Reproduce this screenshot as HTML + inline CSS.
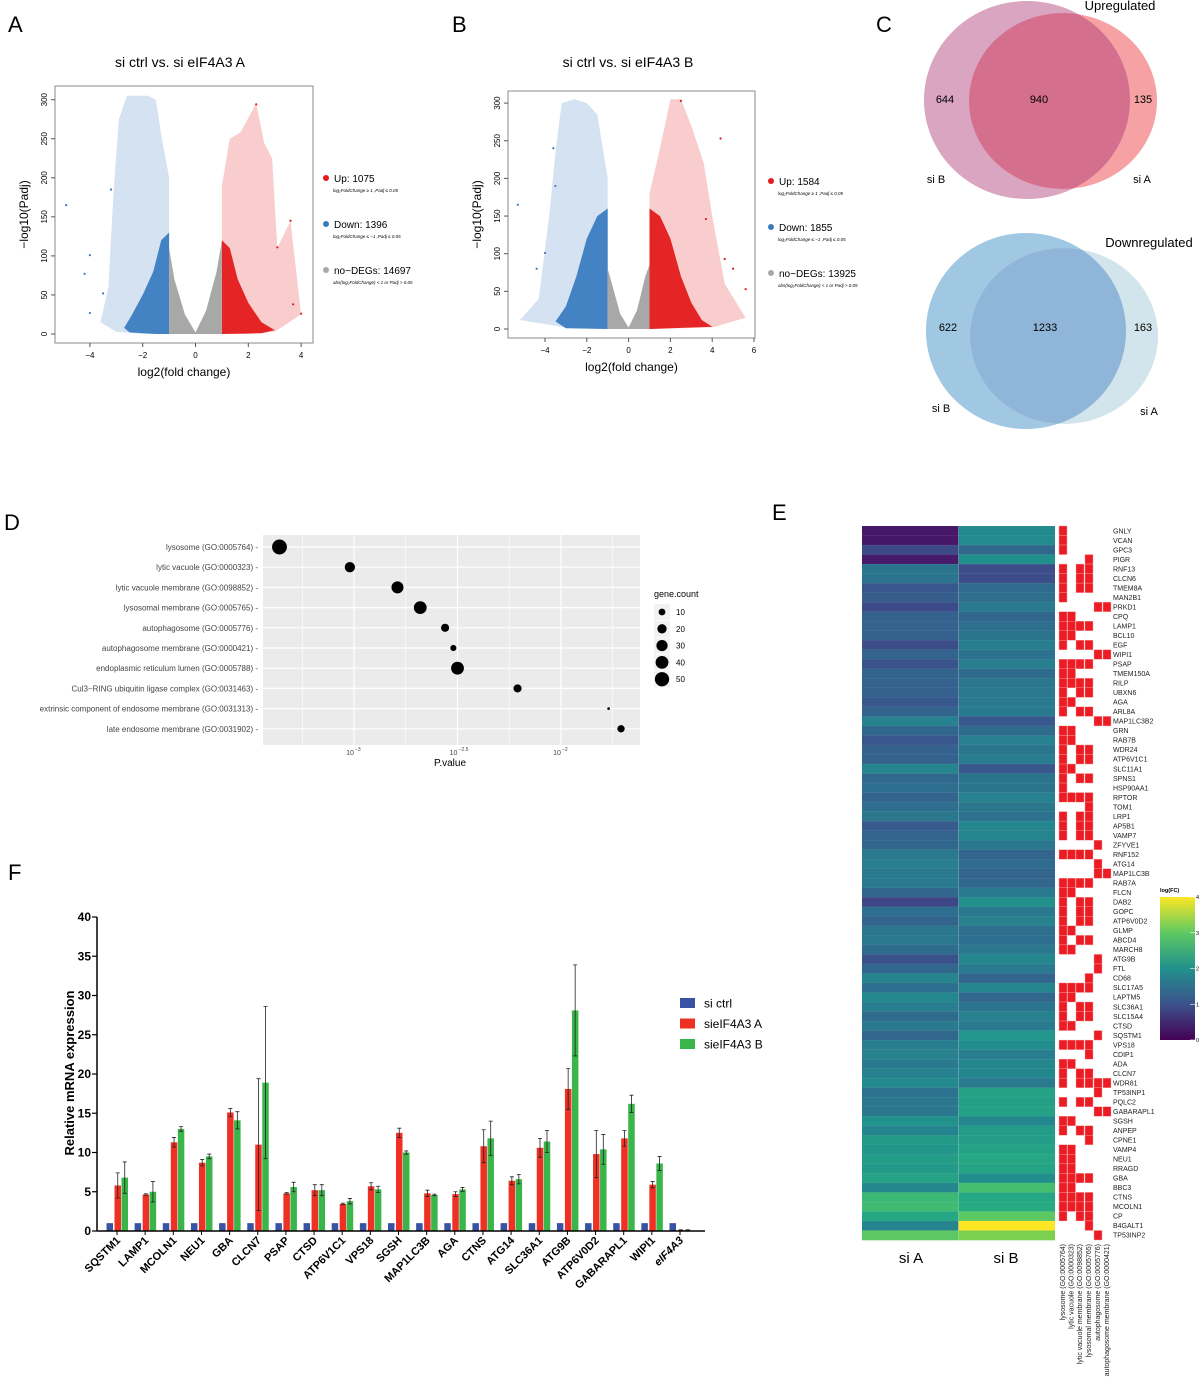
<!DOCTYPE html>
<html><head><meta charset="utf-8"><style>
html,body{margin:0;padding:0;background:#fff}
svg{display:block;font-family:"Liberation Sans",sans-serif}
</style></head><body>
<svg id="fig" width="1200" height="1377" viewBox="0 0 1200 1377">
<defs>
<clipPath id="clipUp"><ellipse cx="1063" cy="101" rx="94" ry="88"/></clipPath>
<clipPath id="clipDn"><ellipse cx="1064" cy="336" rx="94" ry="88"/></clipPath>
<linearGradient id="vir" x1="0" y1="1" x2="0" y2="0">
<stop offset="0" stop-color="#440154"/><stop offset="0.25" stop-color="#3b528b"/><stop offset="0.5" stop-color="#21918c"/><stop offset="0.75" stop-color="#5ec962"/><stop offset="1" stop-color="#fde725"/>
</linearGradient>
</defs>
<g font-size="22">
<text x="8" y="32">A</text>
<text x="452" y="32">B</text>
<text x="876" y="32">C</text>
<text x="4" y="530">D</text>
<text x="772" y="520">E</text>
<text x="8" y="880">F</text>
</g>
<g id="volA"></g>
<g id="volB"></g>
<g>
<ellipse cx="1027" cy="100" rx="103" ry="99" fill="#d9a5c1"/>
<ellipse cx="1063" cy="101" rx="94" ry="88" fill="#f6a2a5"/>
<ellipse cx="1027" cy="100" rx="103" ry="99" fill="#d46f8e" clip-path="url(#clipUp)"/>
<text x="1120" y="10" font-size="13" text-anchor="middle">Upregulated</text>
<g font-size="11" text-anchor="middle">
<text x="945" y="103">644</text>
<text x="1039" y="103">940</text>
<text x="1143" y="103">135</text>
<text x="936" y="183">si B</text>
<text x="1142" y="183">si A</text>
</g>
</g>
<g>
<ellipse cx="1026" cy="331" rx="100" ry="98" fill="#a0c8e3"/>
<ellipse cx="1064" cy="336" rx="94" ry="88" fill="#d2e5ec"/>
<ellipse cx="1026" cy="331" rx="100" ry="98" fill="#8fb5d8" clip-path="url(#clipDn)"/>
<text x="1149" y="247" font-size="13" text-anchor="middle">Downregulated</text>
<g font-size="11" text-anchor="middle">
<text x="948" y="331">622</text>
<text x="1045" y="331">1233</text>
<text x="1143" y="331">163</text>
<text x="941" y="412">si B</text>
<text x="1149" y="415">si A</text>
</g>
</g>
<g id="goD"></g>
<g id="heatE"></g>
<g id="barF"></g>
</svg>
<script>
const NS='http://www.w3.org/2000/svg';
function mk(p,tag,attrs,txt){const e=document.createElementNS(NS,tag);for(const k in attrs)e.setAttribute(k,attrs[k]);if(txt!==undefined)e.textContent=txt;p.appendChild(e);return e;}

// ---------- Volcano data (envelopes, in data units) ----------
const volA_title='si ctrl vs. si eIF4A3 A';
const volA_blueOuter=[[-1,0],[-1,200],[-1.3,255],[-1.5,300],[-1.8,305],[-2.2,305],[-2.6,305],[-2.9,275],[-3.1,185],[-3.3,60],[-3.6,15],[-3,3],[-2,0]];
const volA_blueDense=[[-1,0],[-1,130],[-1.3,120],[-1.6,80],[-2,50],[-2.4,25],[-2.7,8],[-2.5,2],[-1.5,0]];
const volA_redOuter=[[1,0],[1,190],[1.3,250],[1.7,258],[2.3,295],[2.6,245],[2.9,225],[3.1,110],[3.6,145],[4,25],[3,3],[2,0]];
const volA_redDense=[[1,0],[1,120],[1.3,110],[1.6,70],[2,40],[2.5,15],[3,5],[2.5,1]];
const volA_grey=[[-1,0],[-1,110],[-0.8,70],[-0.4,25],[0,2],[0.4,30],[0.8,80],[1,120],[1,0]];
const volA_outliers=[[-4.9,165,'b'],[-4,101,'b'],[-4.2,77,'b'],[-3.5,52,'b'],[-4,27,'b'],[-3.2,185,'b'],[3.6,145,'r'],[3.1,111,'r'],[4,26,'r'],[3.7,38,'r'],[2.3,294,'r']];
const volA_xTicks=[-4,-2,0,2,4];
const volA_yTicks=[0,50,100,150,200,250,300];
const volA_counts=['Up: 1075','Down: 1396','no\u2212DEGs: 14697'];
const volB_title='si ctrl vs. si eIF4A3 B';
const volB_blueOuter=[[-1,0],[-1,200],[-1.5,285],[-2,300],[-2.6,305],[-3.2,300],[-3.5,235],[-3.8,150],[-4.3,40],[-5.2,12],[-3,2]];
const volB_blueDense=[[-1,0],[-1,160],[-1.5,150],[-2,120],[-2.5,70],[-3,30],[-3.5,10],[-3,1]];
const volB_redOuter=[[1,0],[1,180],[1.5,240],[2,305],[2.5,305],[3,270],[3.6,220],[4,150],[4.6,60],[5.6,15],[4,2]];
const volB_redDense=[[1,0],[1,160],[1.5,150],[2,120],[2.5,70],[3,35],[3.5,12],[4,3]];
const volB_grey=[[-1,0],[-1,80],[-0.8,60],[-0.4,20],[0,2],[0.4,25],[0.8,70],[1,85],[1,0]];
const volB_outliers=[[-5.3,165,'b'],[-4,101,'b'],[-4.4,80,'b'],[-3.6,240,'b'],[-3.5,190,'b'],[4.4,253,'r'],[3.7,146,'r'],[5,80,'r'],[5.6,53,'r'],[4.6,93,'r'],[2.5,303,'r']];
const volB_xTicks=[-4,-2,0,2,4,6];
const volB_yTicks=[0,50,100,150,200,250,300];
const volB_counts=['Up: 1584','Down: 1855','no\u2212DEGs: 13925'];

function volcano(g,cfg){
  const sx=v=>cfg.x0+v*cfg.kx, sy=v=>cfg.y0-v*cfg.ky;
  const pts=a=>a.map(p=>sx(p[0]).toFixed(1)+','+sy(p[1]).toFixed(1)).join(' ');
  const t=mk(g,'text',{x:cfg.tx,y:67,'font-size':14,'text-anchor':'middle'},cfg.title);
  
  const fr=mk(g,'rect',{x:cfg.bx0,y:cfg.by0,width:cfg.bx1-cfg.bx0,height:cfg.by1-cfg.by0,fill:'#fff',stroke:'#888','stroke-width':1});
  
  const layers=[[cfg.blueOuter,'#3b7cc0',0.22,'down-sparse'],[cfg.redOuter,'#e41a1c',0.22,'up-sparse'],[cfg.blueDense,'#3b7cc0',0.95,'down-dense'],[cfg.redDense,'#e41a1c',0.95,'up-dense'],[cfg.grey,'#a8a8a8',1,'nodeg-points']];
  layers.forEach(l=>{const p=mk(g,'polygon',{points:pts(l[0]),fill:l[1],'fill-opacity':l[2]});
    });
  cfg.outliers.forEach(o=>{const c=mk(g,'circle',{cx:sx(o[0]),cy:sy(o[1]),r:1.1,fill:o[2]=='b'?'#3b7cc0':'#e41a1c'});
    });
  cfg.xTicks.forEach(v=>{mk(g,'line',{x1:sx(v),x2:sx(v),y1:cfg.by1,y2:cfg.by1+4,stroke:'#555'});
    const tt=mk(g,'text',{x:sx(v),y:cfg.by1+15,'font-size':8,'text-anchor':'middle'},v<0?'\u2212'+(-v):v);
    });
  cfg.yTicks.forEach(v=>{mk(g,'line',{x1:cfg.bx0,x2:cfg.bx0-4,y1:sy(v),y2:sy(v),stroke:'#555'});
    const tt=mk(g,'text',{x:0,y:0,'font-size':8,'text-anchor':'middle',transform:`translate(${cfg.bx0-8},${sy(v)}) rotate(-90)`},v);
    });
  const xl=mk(g,'text',{x:(cfg.bx0+cfg.bx1)/2,y:cfg.by1+33,'font-size':12,'text-anchor':'middle'},'log2(fold change)');
  
  const yl=mk(g,'text',{x:0,y:0,'font-size':12,'text-anchor':'middle',transform:`translate(${cfg.bx0-27},${(cfg.by0+cfg.by1)/2}) rotate(-90)`},'\u2212log10(Padj)');
  
  const cols=['#e41a1c','#3b7cc0','#a8a8a8'];
  const subs=['log\u2082FoldChange \u2265 1 ,Padj \u2264 0.05','log\u2082FoldChange \u2264 \u22121 ,Padj \u2264 0.05','abs(log\u2082FoldChange) < 1  or Padj > 0.05'];
  cfg.counts.forEach((c,i)=>{const y=cfg.ly+i*46;
    const d=mk(g,'circle',{cx:cfg.lx,cy:y,r:3,fill:cols[i]});
    const t1=mk(g,'text',{x:cfg.lx+8,y:y+4,'font-size':10},c);
    const t2=mk(g,'text',{x:cfg.lx+7,y:y+14,'font-size':4.5,'font-style':'italic'},subs[i]);});
}
volcano(document.getElementById('volA'),{title:volA_title,tx:180,bx0:55,bx1:313,by0:86,by1:343,x0:195.5,kx:26.4,y0:334,ky:0.781,
  blueOuter:volA_blueOuter,blueDense:volA_blueDense,redOuter:volA_redOuter,redDense:volA_redDense,grey:volA_grey,outliers:volA_outliers,
  xTicks:volA_xTicks,yTicks:volA_yTicks,counts:volA_counts,lx:326,ly:178});
volcano(document.getElementById('volB'),{title:volB_title,tx:628,bx0:508,bx1:755,by0:91,by1:338,x0:628.6,kx:20.9,y0:329,ky:0.753,
  blueOuter:volB_blueOuter,blueDense:volB_blueDense,redOuter:volB_redOuter,redDense:volB_redDense,grey:volB_grey,outliers:volB_outliers,
  xTicks:volB_xTicks,yTicks:volB_yTicks,counts:volB_counts,lx:771,ly:181});

// ---------- GO dot plot ----------
const goTerms=['lysosome (GO:0005764)','lytic vacuole (GO:0000323)','lytic vacuole membrane (GO:0098852)','lysosomal membrane (GO:0005765)','autophagosome (GO:0005776)','autophagosome membrane (GO:0000421)','endoplasmic reticulum lumen (GO:0005788)','Cul3\u2212RING ubiquitin ligase complex (GO:0031463)','extrinsic component of endosome membrane (GO:0031313)','late endosome membrane (GO:0031902)'];
const goLogP=[-3.36,-3.02,-2.79,-2.68,-2.56,-2.52,-2.5,-2.21,-1.77,-1.71];
const goCount=[55,25,35,40,15,8,40,15,1,12];
const goXTicks=[-3,-2.5,-2];
const goXTickLabels=[['10','\u22123'],['10','\u22122.5'],['10','\u22122']];
const goLegend=[10,20,30,40,50];
(function(){
  const g=document.getElementById('goD');
  const sx=v=>354+(v+3)*207, sy=i=>547+i*20.2, sr=c=>Math.sqrt(c)*0.95+0.4;
  const bg=mk(g,'rect',{x:263,y:535,width:377,height:210,fill:'#ebebeb'});
  [-3.25,-2.75,-2.25,-1.75].forEach(v=>mk(g,'line',{x1:sx(v),x2:sx(v),y1:535,y2:745,stroke:'#fff','stroke-width':0.6}));
  goXTicks.forEach(v=>mk(g,'line',{x1:sx(v),x2:sx(v),y1:535,y2:745,stroke:'#fff','stroke-width':1.2}));
  goTerms.forEach((t,i)=>{mk(g,'line',{x1:263,x2:640,y1:sy(i),y2:sy(i),stroke:'#fff','stroke-width':1.2});
    const tt=mk(g,'text',{x:258,y:sy(i)+3,'font-size':8,'text-anchor':'end',fill:'#444'},t+' -');});
  goLogP.forEach((v,i)=>{const c=mk(g,'circle',{cx:sx(v),cy:sy(i),r:sr(goCount[i]),fill:'#000'});});
  goXTicks.forEach((v,i)=>{const t=mk(g,'text',{x:sx(v)-4,y:755,'font-size':7,fill:'#444','text-anchor':'middle'},goXTickLabels[i][0]);
    
    mk(g,'text',{x:sx(v)+1,y:751,'font-size':5,fill:'#444'},goXTickLabels[i][1]);});
  const xl=mk(g,'text',{x:450,y:766,'font-size':10,'text-anchor':'middle'},'P.value');
  const lt=mk(g,'text',{x:654,y:597,'font-size':9},'gene.count');
  goLegend.forEach((c,i)=>{const y=612+i*16.8;mk(g,'rect',{x:654,y:y-8,width:16,height:16,fill:'#f2f2f2'});
    const d=mk(g,'circle',{cx:662,cy:y,r:sr(c),fill:'#000'});
    const t=mk(g,'text',{x:676,y:y+3,'font-size':8},c);});
})();

// ---------- Heatmap ----------
const hmGenes=['GNLY','VCAN','GPC3','PIGR','RNF13','CLCN6','TMEM8A','MAN2B1','PRKD1','CPQ','LAMP1','BCL10','EGF','WIPI1','PSAP','TMEM150A','RILP','UBXN6','AGA','ARL8A','MAP1LC3B2','GRN','RAB7B','WDR24','ATP6V1C1','SLC11A1','SPNS1','HSP90AA1','RPTOR','TOM1','LRP1','AP5B1','VAMP7','ZFYVE1','RNF152','ATG14','MAP1LC3B','RAB7A','FLCN','DAB2','GOPC','ATP6V0D2','GLMP','ABCD4','MARCH8','ATG9B','FTL','CD68','SLC17A5','LAPTM5','SLC36A1','SLC15A4','CTSD','SQSTM1','VPS18','CDIP1','ADA','CLCN7','WDR81','TP53INP1','PQLC2','GABARAPL1','SGSH','ANPEP','CPNE1','VAMP4','NEU1','RRAGD','GBA','BBC3','CTNS','MCOLN1','CP','B4GALT1','TP53INP2'];
const hmSiA=[.25,.25,.9,.3,1.55,1.55,1.1,1.2,.9,1.25,1.25,1.25,.95,1.3,1.05,1.3,1.25,1.25,1.1,1.3,1.75,1.35,1.1,1.25,1.25,1.8,1.35,1.45,1.3,1.45,1.6,1.15,1.3,1.35,1.65,1.7,1.65,1.65,1.35,.85,1.45,1.3,1.6,1.6,1.4,1.0,1.35,1.8,1.45,1.85,1.7,1.4,1.65,1.35,1.7,1.75,1.65,1.75,1.9,1.5,1.6,1.6,2.05,1.8,2.15,2.1,2.2,2.15,2.35,1.85,2.7,2.75,2.4,1.8,3.0];
const hmSiB=[1.9,1.9,1.35,2.0,.95,.95,1.4,1.45,1.65,1.35,1.45,1.55,1.7,1.5,1.7,1.4,1.6,1.6,1.65,1.65,1.1,1.4,1.75,1.55,1.7,1.1,1.55,1.55,1.75,1.6,1.5,1.85,1.8,1.6,1.3,1.4,1.3,1.35,1.65,2.0,1.6,1.75,1.45,1.45,1.6,1.85,1.65,1.3,1.8,1.35,1.55,1.75,1.65,2.1,1.95,1.7,1.85,1.85,1.65,2.3,2.25,2.3,1.85,2.2,2.2,2.35,2.4,2.35,1.95,2.8,2.4,2.45,3.0,4.0,3.2];
const hmTerms=['lysosome (GO:0005764)','lytic vacuole (GO:0000323)','lytic vacuole membrane (GO:0098852)','lysosomal membrane (GO:0005765)','autophagosome (GO:0005776)','autophagosome membrane (GO:0000421)'];
const hmMember=['1','1','1','4','134','134','134','1','56','12','1234','12','134','56','1234','12','1234','134','12','134','56','12','12','134','134','12','134','1','1234','4','134','134','134','5','1234','5','56','1234','12','134','134','134','12','134','12','5','5','4','1234','12','134','134','12','5','1234','4','12','134','13456','5','134','56','12','134','4','12','12','12','1234','12','1234','1234','134','4','5'];
const hmTicks=[0,1,2,3,4];
(function(){
  const g=document.getElementById('heatE');
  const vir=[[0,[68,1,84]],[0.125,[71,44,122]],[0.25,[59,81,139]],[0.375,[44,113,142]],[0.5,[33,144,141]],[0.625,[39,173,129]],[0.75,[92,200,99]],[0.875,[170,220,50]],[1,[253,231,37]]];
  function col(v){let t=Math.max(0,Math.min(1,v/4));for(let i=1;i<vir.length;i++){if(t<=vir[i][0]){const a=vir[i-1],b=vir[i],f=(t-a[0])/(b[0]-a[0]);
    return 'rgb('+a[1].map((c,k)=>Math.round(c+(b[1][k]-c)*f)).join(',')+')';}}return 'rgb(253,231,37)';}
  const top=526,h=(1240-526)/hmGenes.length;
  const colX=[1059,1067.5,1076,1085,1094,1103],cw=8;
  hmGenes.forEach((gn,i)=>{const y=top+i*h;
    const a=mk(g,'rect',{x:862,y:y,width:96.5,height:h+0.3,fill:col(hmSiA[i])});
    const b=mk(g,'rect',{x:958.5,y:y,width:96.5,height:h+0.3,fill:col(hmSiB[i])});
    mk(g,'line',{x1:862,x2:1055,y1:y,y2:y,stroke:'#fff','stroke-opacity':0.12,'stroke-width':0.5});
    hmMember[i].split('').forEach(ch=>{const k=+ch-1;const m=mk(g,'rect',{x:colX[k],y:y,width:cw,height:h,fill:'#ec1c24',stroke:'#f6a0a0','stroke-width':0.4});
      });
    const t=mk(g,'text',{x:1113,y:y+h/2+2.5,'font-size':7,fill:'#222'},gn);});
  mk(g,'line',{x1:958.5,x2:958.5,y1:top,y2:1240,stroke:'#fff','stroke-opacity':0.4,'stroke-width':0.6});
  const la=mk(g,'text',{x:911,y:1263,'font-size':15,'text-anchor':'middle'},'si A');
  const lb=mk(g,'text',{x:1006,y:1263,'font-size':15,'text-anchor':'middle'},'si B');
  hmTerms.forEach((t,k)=>{const e=mk(g,'text',{x:0,y:0,'font-size':7,'text-anchor':'end',fill:'#222',transform:`translate(${colX[k]+6},1244) rotate(-90)`},t);
    });
  const cb=mk(g,'rect',{x:1160,y:897,width:35,height:143,fill:'url(#vir)'});
  const ct=mk(g,'text',{x:1160,y:892,'font-size':5.5,'font-weight':'bold'},'log(FC)');
  hmTicks.forEach(v=>{const y=1040-v*143/4;mk(g,'line',{x1:1190,x2:1195,y1:y,y2:y,stroke:'#fff','stroke-width':0.6});
    const t=mk(g,'text',{x:1196,y:y+2,'font-size':5.5},v);});
})();

// ---------- Bar chart ----------
const barGenes=['SQSTM1','LAMP1','MCOLN1','NEU1','GBA','CLCN7','PSAP','CTSD','ATP6V1C1','VPS18','SGSH','MAP1LC3B','AGA','CTNS','ATG14','SLC36A1','ATG9B','ATP6V0D2','GABARAPL1','WIPI1','eIF4A3'];
const barCtrl=[1,1,1,1,1,1,1,1,1,1,1,1,1,1,1,1,1,1,1,1,1];
const barA=[5.8,4.65,11.3,8.7,15.1,11.0,4.8,5.2,3.45,5.7,12.5,4.8,4.7,10.8,6.4,10.6,18.1,9.8,11.8,5.9,0.1];
const barAerr=[1.6,0.1,0.6,0.4,0.5,8.4,0.1,0.7,0.1,0.45,0.6,0.4,0.3,2.1,0.5,1.2,2.6,3.0,1.0,0.4,0.05];
const barB=[6.8,5.0,13.0,9.5,14.1,18.9,5.6,5.2,3.8,5.3,10.0,4.6,5.3,11.8,6.6,11.4,28.1,10.4,16.2,8.6,0.1];
const barBerr=[2.0,1.3,0.3,0.3,1.1,9.7,0.6,0.7,0.35,0.4,0.2,0.1,0.25,2.2,0.6,1.4,5.8,1.9,1.1,0.9,0.05];
const barYTicks=[0,5,10,15,20,25,30,35,40];
const barSeries=['si ctrl','sieIF4A3 A','sieIF4A3 B'];
(function(){
  const g=document.getElementById('barF');
  const y0=1231,ky=7.85,sy=v=>y0-v*ky,cx=i=>117+i*28.15;
  const ax=97;
  const cols=['#3953a4','#ee3124','#39b54a'];
  const bw=6.5,off=[-10.5,-2.5,4.5];
  function bar(i,s,v,e){const x=cx(i)+off[s];const r=mk(g,'rect',{x:x,y:sy(v),width:bw,height:v*ky,fill:cols[s]});
    
    if(e!==undefined){const m=x+bw/2;const eb=mk(g,'path',{d:`M${m},${sy(v+e)}V${sy(v-e)}M${m-2},${sy(v+e)}H${m+2}M${m-2},${sy(v-e)}H${m+2}`,stroke:'#222','stroke-width':0.8,fill:'none'});
      }}
  barGenes.forEach((gn,i)=>{bar(i,0,barCtrl[i]);bar(i,1,barA[i],barAerr[i]);bar(i,2,barB[i],barBerr[i]);
    mk(g,'line',{x1:cx(i),x2:cx(i),y1:y0,y2:y0+4,stroke:'#000','stroke-width':1});
    const t=mk(g,'text',{x:0,y:0,'font-size':11,'font-weight':'bold','text-anchor':'end',transform:`translate(${cx(i)+4},${y0+10}) rotate(-45)`,'font-style':gn=='eIF4A3'?'italic':'normal'},gn);
    });
  const ya=mk(g,'line',{x1:ax,x2:ax,y1:sy(40),y2:y0,stroke:'#000','stroke-width':1.5});
  const xa=mk(g,'line',{x1:ax,x2:705,y1:y0,y2:y0,stroke:'#000','stroke-width':1.5});
  barYTicks.forEach(v=>{mk(g,'line',{x1:ax-5,x2:ax,y1:sy(v),y2:sy(v),stroke:'#000','stroke-width':1.2});
    const t=mk(g,'text',{x:ax-6,y:sy(v)+4,'font-size':12,'font-weight':'bold','text-anchor':'end'},v);});
  const yl=mk(g,'text',{x:0,y:0,'font-size':13,'font-weight':'bold','text-anchor':'middle',transform:'translate(74,1073) rotate(-90)'},'Relative mRNA expression');
  
  barSeries.forEach((s,i)=>{const y=1003+i*20.5;const r=mk(g,'rect',{x:680,y:y-5,width:15,height:10,fill:cols[i]});
    const t=mk(g,'text',{x:704,y:y+4.5,'font-size':12},s);});
})();
</script>
</body></html>
